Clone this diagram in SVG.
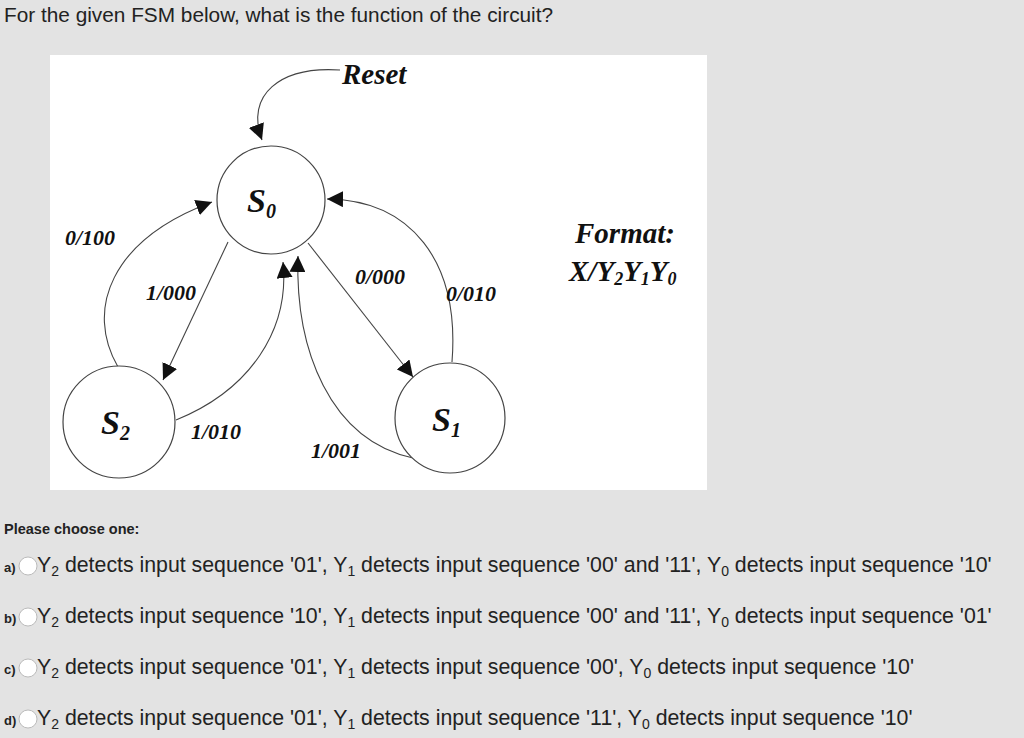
<svg xmlns="http://www.w3.org/2000/svg" width="1024" height="738" viewBox="0 0 1024 738">
<style>
.q{font-family:"Liberation Sans",Arial,sans-serif;fill:#222;font-size:20.8px}
.o{font-family:"Liberation Sans",Arial,sans-serif;fill:#222;font-size:21.3px}
.ol{font-family:"Liberation Sans",Arial,sans-serif;font-weight:bold;font-size:13px;fill:#222}
.lb{font-family:"Liberation Serif","Times New Roman",serif;font-style:italic;font-weight:bold;font-size:22px;fill:#111}
.big{font-size:29px}
.st{font-family:"Liberation Serif","Times New Roman",serif;font-style:italic;font-weight:bold;font-size:34px;fill:#111}
.n{fill:#fff;stroke:#444;stroke-width:1.2}
.e{fill:none;stroke:#444;stroke-width:1.1}
.r{fill:#fff;stroke:#bbb;stroke-width:1}
</style>
<defs><marker id="a" viewBox="0 0 10 10" refX="10" refY="5" markerWidth="16" markerHeight="16" markerUnits="userSpaceOnUse" orient="auto"><path d="M0,0L10,5L0,10z" fill="#111"/></marker></defs>
<rect width="1024" height="738" fill="#e3e3e3"/>
<text class="q" x="4" y="22">For the given FSM below, what is the function of the circuit?</text>
<rect x="50" y="55" width="657" height="435" fill="#fff"/>
<g id="connectors">
<path class="e" d="M340,70 C280,66 245,95 262,140" marker-end="url(#a)"/>
<path class="e" d="M118,367 C85,310 110,240 212,202" marker-end="url(#a)"/>
<path class="e" d="M228,242 L163,380" marker-end="url(#a)"/>
<path class="e" d="M176,420 C250,390 290,330 283,262" marker-end="url(#a)"/>
<path class="e" d="M413,458 C330,440 295,350 298,256" marker-end="url(#a)"/>
<path class="e" d="M308,243 L413,377" marker-end="url(#a)"/>
<path class="e" d="M452,362 C460,260 410,200 327,199" marker-end="url(#a)"/>
</g>
<g id="S0"><circle class="n" cx="271" cy="200" r="54"/><text class="st" x="247" y="212">S<tspan font-size="20" dy="6">0</tspan></text></g>
<g id="S2"><circle class="n" cx="119" cy="422" r="56"/><text class="st" x="101" y="434">S<tspan font-size="20" dy="6">2</tspan></text></g>
<g id="S1"><circle class="n" cx="450" cy="418" r="55"/><text class="st" x="432" y="431">S<tspan font-size="20" dy="6">1</tspan></text></g>
<g id="labels">
<text class="lb big" x="342" y="84">Reset</text>
<text class="lb" x="65" y="245">0/100</text>
<text class="lb" x="146" y="300">1/000</text>
<text class="lb" x="355" y="284">0/000</text>
<text class="lb" x="446" y="301">0/010</text>
<text class="lb" x="191" y="439">1/010</text>
<text class="lb" x="311" y="458">1/001</text>
<text class="lb big" x="575" y="243">Format:</text>
<text class="lb big" x="569" y="281">X/Y<tspan font-size="18" dy="4">2</tspan><tspan dy="-4">Y</tspan><tspan font-size="18" dy="4">1</tspan><tspan dy="-4">Y</tspan><tspan font-size="18" dy="4">0</tspan></text>
</g>
<text class="ol" x="4" y="534" style="font-size:14.5px">Please choose one:</text>
<g>
<text class="ol" x="4" y="572">a)</text><circle class="r" cx="28" cy="566" r="9"/>
<text class="o" x="37" y="572">Y<tspan font-size="14" dy="4">2</tspan><tspan dy="-4"> detects input sequence '01', Y</tspan><tspan font-size="14" dy="4">1</tspan><tspan dy="-4"> detects input sequence '00' and '11', Y</tspan><tspan font-size="14" dy="4">0</tspan><tspan dy="-4"> detects input sequence '10'</tspan></text>
<text class="ol" x="4" y="623">b)</text><circle class="r" cx="28" cy="617" r="9"/>
<text class="o" x="37" y="623">Y<tspan font-size="14" dy="4">2</tspan><tspan dy="-4"> detects input sequence '10', Y</tspan><tspan font-size="14" dy="4">1</tspan><tspan dy="-4"> detects input sequence '00' and '11', Y</tspan><tspan font-size="14" dy="4">0</tspan><tspan dy="-4"> detects input sequence '01'</tspan></text>
<text class="ol" x="4" y="674">c)</text><circle class="r" cx="28" cy="668" r="9"/>
<text class="o" x="37" y="674">Y<tspan font-size="14" dy="4">2</tspan><tspan dy="-4"> detects input sequence '01', Y</tspan><tspan font-size="14" dy="4">1</tspan><tspan dy="-4"> detects input sequence '00', Y</tspan><tspan font-size="14" dy="4">0</tspan><tspan dy="-4"> detects input sequence '10'</tspan></text>
<text class="ol" x="4" y="725">d)</text><circle class="r" cx="28" cy="719" r="9"/>
<text class="o" x="37" y="725">Y<tspan font-size="14" dy="4">2</tspan><tspan dy="-4"> detects input sequence '01', Y</tspan><tspan font-size="14" dy="4">1</tspan><tspan dy="-4"> detects input sequence '11', Y</tspan><tspan font-size="14" dy="4">0</tspan><tspan dy="-4"> detects input sequence '10'</tspan></text>
</g>
</svg>
